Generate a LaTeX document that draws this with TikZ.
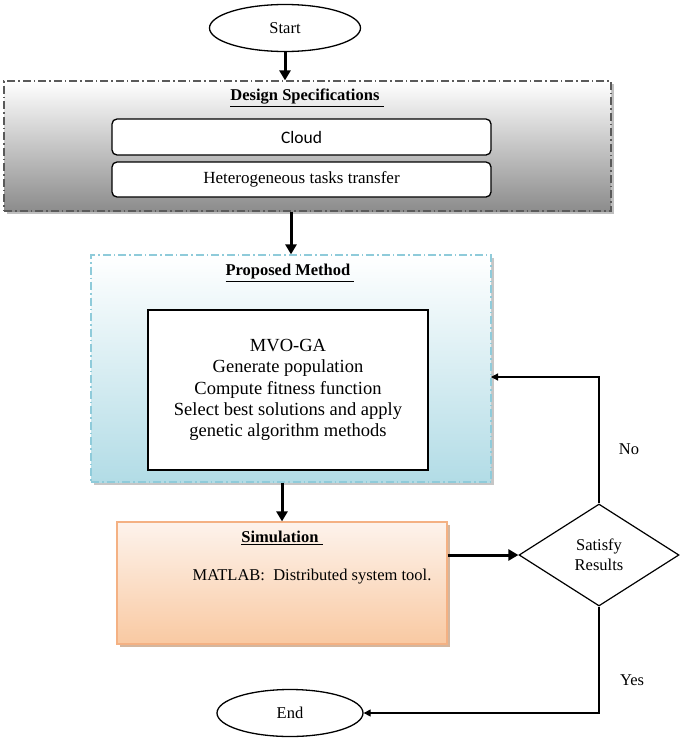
\documentclass[tikz,border=0pt]{standalone}
\usepackage{fontspec}
\setmainfont{Liberation Serif}
\newfontfamily\calibri{Carlito}
\usepackage{tikz}
\usetikzlibrary{arrows.meta, positioning, shapes.geometric, shadows}

\definecolor{dsline}{HTML}{5A5A5A}
\definecolor{dsmid}{HTML}{D6D6D6}
\definecolor{dsbot}{HTML}{8C8C8C}
\definecolor{pmline}{HTML}{8FCBDA}
\definecolor{pmbot}{HTML}{B2DCE6}
\definecolor{simline}{HTML}{F4B183}
\definecolor{simtop}{HTML}{FDF3EC}
\definecolor{simbot}{HTML}{F9C9A2}
\definecolor{simshadow}{HTML}{C9A486}

\begin{document}
\begin{tikzpicture}[x=1pt, y=-1pt, font=\fontsize{16.5}{20}\selectfont,
    dashdot/.style={dash pattern=on 8pt off 3pt on 1.5pt off 3pt},
    terminal/.style={draw, ellipse, line width=1.3pt, inner sep=0pt, minimum width=148, minimum height=47},
    itembox/.style={draw, rectangle, rounded corners=5pt, line width=1.3pt, fill=white, minimum width=379},
    bigarrow/.style={-{Triangle[length=10pt, width=11pt]}, line width=3pt},
    thinarrow/.style={-{Triangle[length=7pt, width=7pt]}, line width=1.2pt},
    heading/.style={font=\fontsize{16.5}{20}\selectfont\bfseries}]
    \useasboundingbox (0,0) rectangle (685,739);
    % Start
    \node[terminal, minimum width=151] (start) at (285,28) {Start};
    % Design Specifications
    \node[draw=dsline, line width=1.2pt, dashdot, top color=white, middle color=dsmid, bottom color=dsbot,
          drop shadow={shadow xshift=3pt, shadow yshift=-3pt, opacity=0.5},
          minimum width=607, minimum height=130] (ds) at (307.5,146) {};
    \node[heading] (dstitle) at (307,98) {\underline{Design Specifications\ }};
    \node[itembox, minimum height=36] (cloud) at (301.5,137) {\calibri\fontsize{17.5}{20}\selectfont Cloud};
    \node[itembox, minimum height=35] (het) at (301.5,179.5) {\fontsize{17}{20}\selectfont Heterogeneous tasks transfer};
    % Proposed Method
    \node[draw=pmline, line width=1.2pt, dashdot, top color=white, bottom color=pmbot,
          drop shadow={shadow xshift=3pt, shadow yshift=-3pt, opacity=0.45},
          minimum width=400, minimum height=227] (pm) at (291,368.5) {};
    \node[heading] (pmtitle) at (290,273) {\underline{Proposed Method\ }};
    \node[draw, rectangle, line width=1.3pt, fill=white, align=center, minimum width=280, minimum height=160,
          font=\fontsize{18.5}{21.3}\selectfont] (mvo) at (288,390)
        {MVO-GA\\Generate population\\Compute fitness function\\Select best solutions and apply\\genetic algorithm methods};
    % Simulation
    \node[draw=simline, line width=1.2pt, top color=simtop, bottom color=simbot,
          drop shadow={shadow xshift=3pt, shadow yshift=-3pt, fill=simshadow, opacity=0.8},
          minimum width=330, minimum height=122] (sim) at (282,583) {};
    \node[heading] (simtitle) at (282,538) {\underline{Simulation\ }};
    \node (matlab) at (312,577) {MATLAB:\enspace Distributed system tool.};
    % Decision and End
    \node[draw, diamond, line width=1.2pt, inner sep=0pt, align=center, minimum width=160, minimum height=102] (dec) at (599,555) {Satisfy\\Results};
    \node[terminal, minimum width=146] (end) at (290,713) {End};
    \coordinate (noin) at (491,377);
    % arrows
    \draw[bigarrow] (start.south) -- (start.south |- ds.north);
    \draw[bigarrow] (pm.north |- ds.south) -- (pm.north);
    \draw[bigarrow] (sim.north |- pm.south) -- (sim.north);
    \draw[bigarrow] (sim.east |- dec.west) -- (dec.west);
    \draw[thinarrow] (dec.north) |- (noin);
    \draw[thinarrow] (dec.south) |- (end.east);
    % labels
    \node (no) at (629,449) {No};
    \node (yes) at (632,680) {Yes};
\end{tikzpicture}
\end{document}
